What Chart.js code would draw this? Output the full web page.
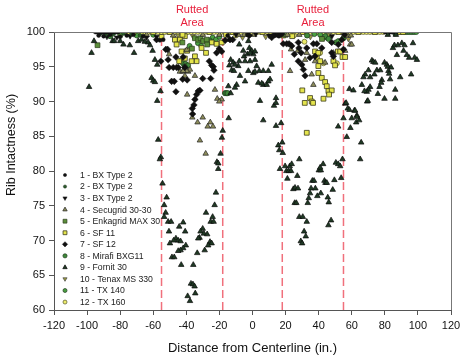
<!DOCTYPE html>
<html>
<head>
<meta charset="utf-8">
<script src="https://cdn.jsdelivr.net/npm/chart.js"></script>
<style>
  body { margin: 0; background: #fff; }
  canvas { display: block; }
</style>
</head>
<body>
<canvas id="ribChart" width="474" height="359"></canvas>
<script>
// Axis ticks
const xTicks = [-120, -100, -80, -60, -40, -20, 0, 20, 40, 60, 80, 100, 120];
const yTicks = [60, 65, 70, 75, 80, 85, 90, 95, 100];

// Rutted area edges (in.)
const rutLines = [-55, -18, 18, 55];

// Points on the 100% line (x only)
const bx1Top = [-95, -94, -93, -92, -91, -90, -89, -88, -87, -86, -85, -84, -83, -82, -81, 80, 81, 82, 83, 84, 85, 86, 87];
const tx140Top = [92, 93, 94, 95, 96, 97, 98, 99];
const tx160Top = [-79, -77, -75, -73, -71, -69, -67, -65, -63, -61, -59, -57, -55, -53, -51, -49, -47, -45, -43, -41,
  -39, -37, -35, -33, -31, -29, -27, -25, -23, -21, -19, -17, -15, -13, -11, -9, -7, -5, -3, -1,
  1, 3, 5, 7, 9, 11, 13, 15, 17, 19, 21, 23, 25, 27, 29, 31, 33, 35, 37, 39,
  41, 43, 45, 47, 49, 51, 53, 55, 57, 59, 61, 63, 65, 67, 69, 71, 73, 75, 77, 79, 88.5, 90, 91.5];
const sf11Top = [-72, -60, -50, -26, -12, 6, 30, 52, 64, 74, 89, 91];

// Points below the line [x, y]
const bx1 = [[-93, 99.5], [-90, 99.4], [-86, 99.6], [-80, 99.3], [-76, 99.5], [-72, 99.6], [-66, 99.4], [-15, 99.5],
  [-3, 99.6], [14, 99.5], [16, 99.4], [-56, 98.8], [-54, 98.9]];
const bx2 = [[-92, 99.8], [-89, 99.6], [-84, 99.7], [-78, 99.8], [-73, 99.7], [-68, 99.5], [82, 99.8], [86, 99.7]];
const bx3 = [[-88, 99.3], [-82, 99.2], [-74, 99.4], [-64, 99.2], [-58, 99.3], [-10, 99.6], [2, 99.7], [10, 99.5], [48, 99.4]];
const secugrid = [[-39.8, 97.4], [-40.9, 95.0], [-38.9, 94.3], [-43.9, 94.3], [-42.3, 94.3], [-37.8, 94.6], [-39.8, 94.4],
  [-41.9, 94.4], [-34.8, 93.7], [-40.9, 93.7], [-22.7, 91.7], [-39.5, 91.0], [-21.3, 90.4], [-18.6, 90.3], [-20.1, 90.0],
  [-36.4, 87.7], [-33.2, 87.0], [-30.1, 87.7], [-25.5, 87.0], [-27.1, 86.4], [-23.9, 86.4], [-31.8, 84.4], [-28.3, 82.5],
  [-8.6, 99.6], [-5.0, 99.6], [0.9, 99.6], [21.1, 99.6], [28.3, 99.6], [23.3, 97.5], [27.4, 97.3], [32.8, 97.0],
  [31.8, 96.0], [37.8, 95.8], [43.9, 95.6], [48.9, 97.0], [56.0, 97.3], [59.0, 98.2], [35.8, 93.9], [22.7, 94.4],
  [36.8, 92.4], [57.5, 99.5], [59.5, 99.5], [60.0, 98.2], [-64, 99.6], [-48, 99.5], [-30, 99.6], [-20, 99.6], [-50.4, 96.8]];
const enkagrid = [[-93.7, 98.1], [-34.8, 99.1], [-32.8, 98.9], [-31.4, 99.1], [-29.8, 98.7], [-27.7, 98.9], [-27.4, 98.2],
  [-88, 99.8], [-80, 99.6], [-42.4, 98.5], [20, 99.6], [42, 99.0], [-36.6, 97.6]];
const sf11 = [[-46.9, 98.9], [-43.9, 98.9], [-40.9, 99.4], [-45.9, 98.2], [-42.9, 97.2], [-39.5, 97.3], [-44.3, 95.8],
  [-40.9, 96.2], [-34.8, 96.5], [-33.8, 95.8], [-36.8, 95.8], [-30.8, 97.7], [-28.1, 97.0], [-24.7, 98.5], [-21.7, 98.3],
  [-18.6, 98.5], [-16.0, 99.6], [-42.3, 99.6], [-55, 99.3], [37.8, 97.2], [39.8, 97.0], [38.9, 96.3], [40.9, 95.8],
  [39.8, 95.1], [48.9, 95.8], [49.9, 95.2], [51.6, 97.2], [53.0, 97.2], [39.8, 94.1], [41.9, 93.4], [43.9, 92.8],
  [44.9, 92.2], [45.9, 91.5], [47.9, 91.6], [46.3, 91.0], [30.1, 91.6], [34.8, 90.5], [35.8, 90.0], [42.9, 90.4],
  [31.6, 89.8], [36.6, 89.8], [32.8, 85.5], [54.4, 96.4], [56.0, 96.4], [18.6, 99.5], [24, 99.4]];
const sf12 = [[-58.0, 98.9], [-52.4, 97.5], [-51.3, 97.5], [-55.4, 95.8], [-51.0, 96.0], [-50.4, 94.9], [-47.9, 94.9],
  [-45.9, 94.9], [-48.9, 92.9], [-47.3, 92.9], [-46.3, 91.4], [-46.3, 96.4], [-41.9, 96.4], [-44.9, 94.9], [-40.9, 94.9],
  [-26.1, 95.8], [-24.7, 95.2], [-23.3, 94.5], [-30.1, 93.3], [-25.3, 93.3], [-32.8, 91.5], [-31.8, 91.6],
  [-33.8, 91.0], [-34.8, 90.3], [-35.4, 89.5], [-20.1, 97.6], [-18.6, 97.2], [-21.7, 97.0], [-13.6, 98.9], [-12.0, 98.9],
  [-36.4, 89.0], [-36.2, 88.2], [-42.2, 93.2], [-39.5, 93.1], [-23.7, 95.0], [-16.5, 98.8], [-2, 99.5],
  [13.2, 99.6], [15.6, 99.6], [17.7, 99.7], [18.6, 98.3], [20.7, 98.3], [22.1, 98.3], [23.7, 98.0], [27.7, 98.5],
  [28.1, 97.7], [32.8, 97.7], [36.8, 98.3], [38.9, 98.3], [41.9, 97.7], [47.9, 98.5], [51.9, 98.2], [27.7, 95.8],
  [29.8, 95.3], [30.8, 94.6], [31.8, 93.7], [34.8, 96.3], [37.8, 96.5], [29.4, 97.0], [25.3, 96.8], [47.9, 97.0],
  [48.9, 96.5], [55.6, 99.6], [55, 97.5], [54, 98.9], [11.6, 99.2]];
const mirafi = [[-43.9, 95.8], [-42, 95.5], [-40.5, 95.4], [-39, 95.2], [-41, 95.0], [-16.6, 91.2], [-15.8, 91.2],
  [-15, 91.2], [-26, 98.8], [44, 99.4], [46, 99.0], [-86, 99.4], [33, 99.5]];
const fornit = [[-95.8, 98.7], [-97.3, 97.0], [-98.8, 92.1], [-84.6, 98.7], [-83.6, 98.7], [-74.2, 98.1], [-71.6, 97.0],
  [-69.1, 98.7], [-67.1, 98.9], [-65.1, 98.6], [-63.1, 98.5], [-62.0, 98.1], [-60.4, 97.3], [-59.0, 96.0], [-57.6, 95.3],
  [-61.0, 93.4], [-60.0, 93.0], [-59.0, 92.8], [-55.6, 91.5], [-57.6, 90.1], [-57.0, 84.5], [-55.4, 82.0], [-56.0, 81.7],
  [-54.4, 78.2], [-78, 98.2], [-80, 98.7], [-14.4, 87.6], [-18.0, 85.8], [-18.5, 84.8], [-19.3, 82.5], [-21.5, 81.3],
  [-20.7, 81.1], [-20.7, 80.3], [-22.1, 76.9], [-51.9, 76.2], [-53.4, 75.1], [-22.9, 75.1], [-52.5, 74.0], [-53.4, 73.4],
  [-28.1, 74.0], [-24.1, 73.4], [-51.0, 72.7], [-49.2, 72.7], [-41.9, 72.6], [-25.3, 72.7], [-23.5, 72.7], [-44.3, 72.0],
  [-40.7, 71.3], [-50.5, 71.3], [-30.1, 71.7], [-31.4, 71.3], [-29.4, 71.0], [-27.4, 70.9], [-32.0, 70.4], [-32.8, 70.3],
  [-46.3, 70.3], [-44.9, 70.0], [-47.7, 70.0], [-43.5, 69.9], [-49.9, 69.6], [-25.7, 69.8], [-24.7, 69.6], [-26.8, 69.3],
  [-40.3, 69.3], [-41.9, 68.9], [-43.5, 68.6], [-44.9, 68.5], [-28.9, 68.6], [-33.4, 68.2], [-48.7, 67.6], [-47.3, 67.6],
  [-43.1, 66.5], [-35.8, 66.5], [-37.2, 63.8], [-36.0, 63.7], [-35.0, 63.4], [-34.6, 62.4], [-39.2, 62.0], [-37.8, 61.3],
  [-13.2, 96.0], [-14.0, 95.2], [-11.6, 95.6], [-12.6, 94.5], [-11.2, 94.4], [-8.6, 95.1], [-8.0, 95.8], [-5.1, 96.5],
  [-2.5, 98.7], [-1.9, 97.7], [-0.5, 97.3], [0.5, 96.8], [-3.1, 96.8], [1.5, 96.0], [-4.5, 95.8], [2.5, 95.1],
  [-2.5, 94.4], [0.5, 94.1], [4.1, 94.4], [6.5, 94.4], [9.6, 94.4], [-7.6, 93.7], [-4.5, 92.9], [3.5, 92.7],
  [6.5, 92.4], [8.6, 92.4], [10.6, 93.2], [-9.6, 92.4], [-10.6, 92.0], [-14.6, 92.2], [-13.2, 91.2], [4.5, 90.1],
  [11.6, 95.3], [14.2, 90.5], [5.6, 92.6], [-14, 98.9], [6.5, 87.3], [14.2, 86.5], [13.0, 89.4], [14.2, 89.8],
  [-1.5, 97.0], [1.5, 97.2], [-5.6, 97.3], [-8, 98.2], [-10.6, 95.3], [-1.5, 95.8], [1.5, 94.3], [9.6, 92.9],
  [16.6, 80.3], [19.7, 80.7], [22.5, 80.7], [23.7, 81.0], [20.5, 80.0], [21.9, 80.0], [23.3, 80.0], [21.1, 78.9],
  [27.1, 79.3], [40.1, 80.1], [41.3, 80.1], [40.9, 80.5], [49.5, 78.7], [53.6, 79.0], [36.2, 78.6], [37.2, 78.6],
  [43.5, 78.6], [44.1, 78.3], [44.9, 78.3], [24.7, 77.4], [25.7, 77.6], [27.5, 77.5], [35.4, 77.5], [38.0, 77.5],
  [48.5, 77.3], [34.8, 76.8], [41.3, 76.8], [39.2, 76.4], [34.0, 76.1], [45.5, 76.2], [46.1, 75.5], [25.5, 75.4],
  [26.5, 75.4], [33.4, 75.4], [28.3, 73.4], [30.4, 73.4], [32.8, 72.7], [47.5, 72.9], [45.9, 72.2], [31.2, 71.3],
  [32.2, 70.6], [29.2, 69.9], [30.0, 69.6], [15.6, 83.7], [18.0, 84.1], [16.2, 83.0], [18.3, 82.6], [28.3, 81.7],
  [42.7, 81.0], [50.4, 81.2], [51.8, 81.0], [53.0, 80.7], [54.4, 81.7], [65.1, 81.7], [65.7, 84.1], [57.0, 84.9],
  [51.8, 86.4], [59.2, 86.2], [55.0, 87.6], [60.0, 87.6], [62.7, 87.0], [64.5, 87.3], [63.1, 88.0], [61.6, 88.7],
  [57.6, 89.0], [56.0, 89.7], [69.3, 90.0], [17.3, 86.9],
  [81.8, 99.6], [86.7, 99.6], [84.9, 97.7], [85.8, 98.1], [87.9, 98.1], [90.3, 98.4], [91.9, 98.1], [97.0, 98.4],
  [91.3, 97.3], [93.3, 96.7], [94.7, 96.3], [87.3, 96.7], [98.0, 96.3], [99.4, 96.0], [72.2, 95.9], [73.1, 95.7],
  [74.2, 95.6], [79.8, 95.6], [81.2, 95.3], [81.8, 95.0], [83.8, 94.9], [82.2, 94.4], [82.6, 94.0], [70.1, 94.5],
  [75.2, 94.5], [77.2, 94.5], [73.7, 93.9], [68.1, 93.9], [67.1, 93.5], [71.1, 93.5], [89.3, 93.5], [95.9, 93.9],
  [83.2, 93.2], [78.2, 93.1], [77.8, 92.7], [66.1, 92.4], [71.1, 92.1], [70.1, 91.7], [69.1, 91.4], [67.7, 91.5],
  [76.8, 92.1], [86.3, 91.7], [75.8, 91.1], [69.7, 90.1], [79.8, 90.4], [86.3, 90.4], [58.6, 91.8], [61.0, 91.6],
  [56.6, 89.8], [58.6, 88.8], [62.0, 88.7], [63.1, 87.8]];
const tenax = [[-45, 99.5], [-36, 99.4], [-6, 99.2], [8, 99.3], [35, 99.3], [46, 99.6], [58, 99.0]];
const tx140 = [[37.4, 99.7], [40.9, 99.6], [43.5, 99.2], [45.5, 99.2], [50.4, 98.5], [51.9, 98.7], [-24.1, 99.2],
  [-26.1, 98.5], [-22.1, 98.9], [-38, 98.0], [-20, 99.3], [55, 99.1], [-60, 99.6], [-70, 99.5], [-33, 98.4], [-31, 98.0]];
const tx160 = [[31.4, 98.6], [40.9, 97.0], [42.9, 95.5], [51.0, 95.5], [-10, 99.5], [25, 99.5]];

const pts = arr => arr.map(p => ({ x: p[0], y: p[1] }));
const atTop = xs => xs.map(x => ({ x: x, y: 100 }));

const datasets = [
  { label: '1 - BX Type 2', data: atTop(bx1Top).concat(pts(bx1)), pointStyle: 'circle', pointRadius: 2,
    backgroundColor: '#111', borderColor: '#111', borderWidth: 0.5, order: 3 },
  { label: '2 - BX Type 2', data: pts(bx2), pointStyle: 'circle', pointRadius: 2,
    backgroundColor: '#2d5a2d', borderColor: '#1a331a', borderWidth: 0.5, order: 3 },
  { label: '3 - BX Type 2', data: pts(bx3), pointStyle: 'triangle', rotation: 180, pointRadius: 3,
    backgroundColor: '#111', borderColor: '#111', borderWidth: 0.5, order: 3 },
  { label: '4 - Secugrid 30-30', data: pts(secugrid), pointStyle: 'triangle', pointRadius: 3.2,
    backgroundColor: '#8c8c5a', borderColor: '#222', borderWidth: 0.7, order: 4 },
  { label: '5 - Enkagrid MAX 30', data: pts(enkagrid), pointStyle: 'rect', pointRadius: 3.4,
    backgroundColor: '#5b8f3a', borderColor: '#2a3a1a', borderWidth: 0.7, order: 4 },
  { label: '6 - SF 11', data: atTop(sf11Top).concat(pts(sf11)), pointStyle: 'rect', pointRadius: 3.4,
    backgroundColor: '#e4e44c', borderColor: '#3a3a1a', borderWidth: 0.8, order: 4 },
  { label: '7 - SF 12', data: pts(sf12), pointStyle: 'rectRot', pointRadius: 3.3,
    backgroundColor: '#111', borderColor: '#111', borderWidth: 0.5, order: 2 },
  { label: '8 - Mirafi BXG11', data: pts(mirafi), pointStyle: 'circle', pointRadius: 2.6,
    backgroundColor: '#3f8a3a', borderColor: '#1c3a1c', borderWidth: 0.7, order: 4 },
  { label: '9 - Fornit 30', data: pts(fornit), pointStyle: 'triangle', pointRadius: 3.2,
    backgroundColor: '#1f3a24', borderColor: '#0a0a0a', borderWidth: 0.7, order: 2 },
  { label: '10 - Tenax MS 330', data: pts(tenax), pointStyle: 'triangle', rotation: 180, pointRadius: 3,
    backgroundColor: '#9a9a44', borderColor: '#333', borderWidth: 0.6, order: 4 },
  { label: '11 - TX 140', data: atTop(tx140Top).concat(pts(tx140)), pointStyle: 'circle', pointRadius: 2.5,
    backgroundColor: '#4aa040', borderColor: '#1f3a1f', borderWidth: 0.7, order: 4 },
  { label: '12 - TX 160', data: atTop(tx160Top).concat(pts(tx160)), pointStyle: 'circle', pointRadius: 2.5,
    backgroundColor: '#ecec6a', borderColor: '#55552a', borderWidth: 0.7, order: 5 }
];

const legendCount = datasets.length;

rutLines.forEach(x => {
  datasets.push({
    label: 'rut', data: [{ x: x, y: 60 }, { x: x, y: 100 }], type: 'line', showLine: true,
    borderColor: '#f0707c', borderWidth: 1.5, borderDash: [8, 4], pointRadius: 0, order: 10
  });
});

const FONT = "Arial, 'Liberation Sans', Helvetica, sans-serif";

const decorPlugin = {
  id: 'decor',
  afterDraw(chart) {
    const ctx = chart.ctx;
    const a = chart.chartArea;
    const xs = chart.scales.x;
    ctx.save();
    // frame on top and right
    ctx.strokeStyle = '#777';
    ctx.lineWidth = 1;
    ctx.beginPath();
    ctx.moveTo(a.left, a.top + 0.5);
    ctx.lineTo(a.right + 0.5, a.top + 0.5);
    ctx.lineTo(a.right + 0.5, a.bottom);
    ctx.stroke();

    // Rutted Area labels
    ctx.fillStyle = '#e8203c';
    ctx.font = '11px ' + FONT;
    ctx.textAlign = 'center';
    ctx.textBaseline = 'middle';
    [[rutLines[0], rutLines[1]], [rutLines[2], rutLines[3]]].forEach(pair => {
      const px = xs.getPixelForValue((pair[0] + pair[1]) / 2);
      ctx.fillText('Rutted', px, 10);
      ctx.fillText('Area', px, 23);
    });

    // y axis title
    ctx.fillStyle = '#111';
    ctx.font = '12.5px ' + FONT;
    ctx.translate(12, 145);
    ctx.rotate(-Math.PI / 2);
    ctx.fillText('Rib Intactness (%)', 0, 0);
    ctx.restore();

    // legend inside the plot
    ctx.save();
    ctx.font = '8.7px ' + FONT;
    ctx.textAlign = 'left';
    ctx.textBaseline = 'middle';
    for (let i = 0; i < legendCount; i++) {
      const ds = datasets[i];
      const y = 175 + i * 11.55;
      ctx.fillStyle = ds.backgroundColor;
      ctx.strokeStyle = ds.borderColor;
      ctx.lineWidth = ds.borderWidth;
      Chart.helpers.drawPoint(ctx, {
        pointStyle: ds.pointStyle, radius: ds.pointRadius * 0.8,
        rotation: ds.rotation || 0, borderWidth: ds.borderWidth
      }, 65, y);
      ctx.fillStyle = '#222';
      ctx.fillText(ds.label, 80, y + 0.5);
    }
    ctx.restore();
  }
};

new Chart(document.getElementById('ribChart'), {
  type: 'scatter',
  data: { datasets: datasets },
  options: {
    responsive: false,
    animation: false,
    layout: { padding: { top: 32, right: 23, left: 0, bottom: 0 } },
    plugins: { legend: { display: false }, tooltip: { enabled: false } },
    elements: { point: { hoverRadius: 0 } },
    scales: {
      x: {
        type: 'linear', min: -120, max: 120,
        afterFit: s => { s.height = 49; },
        afterBuildTicks: s => { s.ticks = xTicks.map(v => ({ value: v })); },
        ticks: { color: '#111', font: { size: 11, family: FONT }, padding: 4 },
        grid: { drawOnChartArea: false, color: '#555', tickLength: 5 },
        border: { color: '#555' },
        title: { display: true, text: 'Distance from Centerline (in.)', color: '#111',
          font: { size: 13, family: FONT }, padding: { top: 0, bottom: 3 } }
      },
      y: {
        type: 'linear', min: 60, max: 100,
        afterFit: s => { s.width = 54; },
        afterBuildTicks: s => { s.ticks = yTicks.map(v => ({ value: v })); },
        ticks: { color: '#111', font: { size: 11, family: FONT }, padding: 4 },
        grid: { drawOnChartArea: false, color: '#555', tickLength: 5 },
        border: { color: '#555' }
      }
    }
  },
  plugins: [decorPlugin]
});
</script>
</body>
</html>
